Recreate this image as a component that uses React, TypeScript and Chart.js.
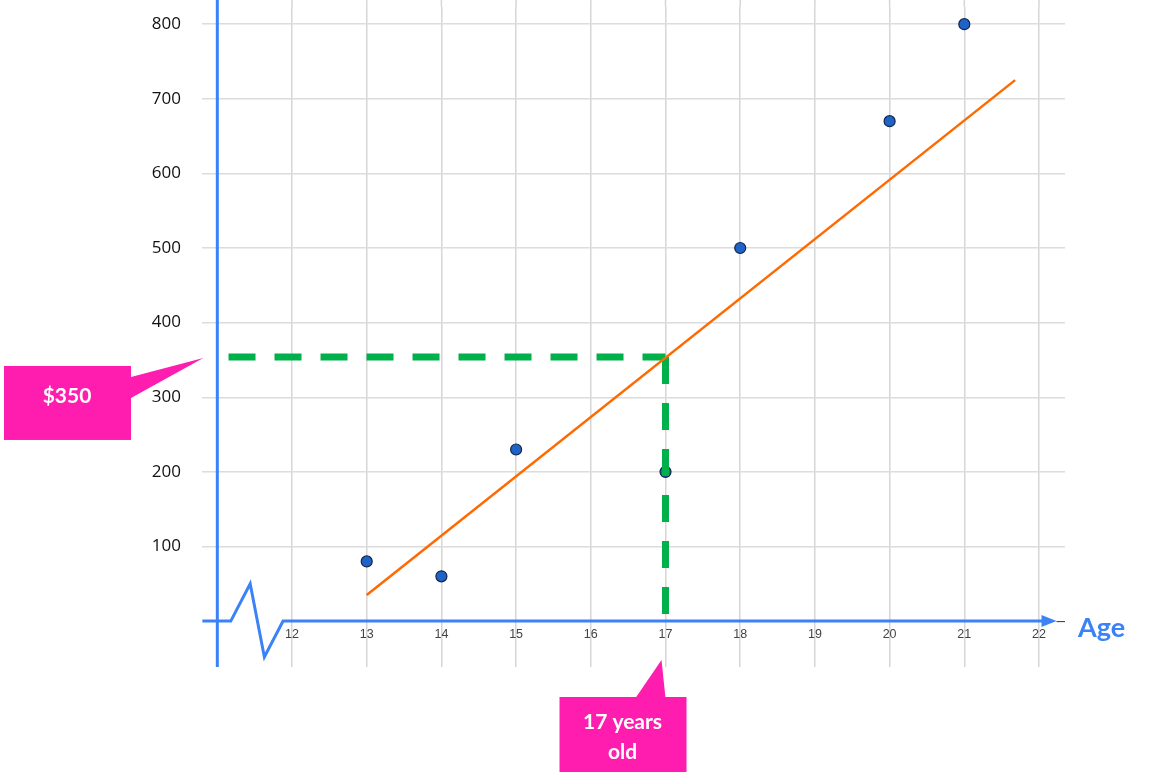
import React, { useEffect, useRef } from "react";
import { Chart, registerables } from "chart.js";

Chart.register(...registerables);

// ---- data ----
const ages = [13, 14, 15, 17, 18, 20, 21];
const amounts = [80, 60, 230, 200, 500, 670, 800];
const trendX = [13, 21.68];
const trendY = [35, 725];
const guideHX = [11.15, 17];
const guideHY = [354, 354];
const guideVX = [17, 17];
const guideVY = [354, 0];
const xTicks = [12, 13, 14, 15, 16, 17, 18, 19, 20, 21, 22];
const yTicks = [100, 200, 300, 400, 500, 600, 700, 800];
const breakX = [10.8, 11.18, 11.44, 11.63, 11.88, 22.06];
const breakY = [0, 0, 50, -48, 0, 0];
const yAxisAt = 11;
const priceLabel = "$350";
const ageLabel = ["17 years", "old"];
const xTitle = "Age";

const BLUE = "#3b82f6";
const PINK = "#ff1db0";
const GREEN = "#00b04a";

const overlay = {
  id: "overlay",
  beforeDatasetsDraw(chart: any) {
    // extend vertical grid lines to the top edge of the picture
    const { ctx, chartArea, scales } = chart;
    const xs = scales.x;
    ctx.save();
    ctx.strokeStyle = "#d6d6d6";
    ctx.lineWidth = 1.5;
    xTicks.forEach((v) => {
      const px = xs.getPixelForValue(v);
      ctx.beginPath();
      ctx.moveTo(px, 0);
      ctx.lineTo(px, chartArea.top);
      ctx.stroke();
    });
    ctx.restore();
  },
  afterDatasetsDraw(chart: any) {
    const { ctx, chartArea, scales } = chart;
    const xs = scales.x;
    const ys = scales.y;
    ctx.save();
    // y axis
    const ax = xs.getPixelForValue(yAxisAt);
    ctx.strokeStyle = BLUE;
    ctx.lineWidth = 3;
    ctx.beginPath();
    ctx.moveTo(ax, 0);
    ctx.lineTo(ax, chartArea.bottom);
    ctx.stroke();
    // x axis with break
    ctx.lineJoin = "miter";
    ctx.beginPath();
    breakX.forEach((v, i) => {
      const px = xs.getPixelForValue(v);
      const py = ys.getPixelForValue(breakY[i]);
      if (i === 0) ctx.moveTo(px, py);
      else ctx.lineTo(px, py);
    });
    ctx.stroke();
    const y0 = ys.getPixelForValue(0);
    const base = xs.getPixelForValue(breakX[breakX.length - 1]);
    const tip = base + 13;
    ctx.fillStyle = BLUE;
    ctx.beginPath();
    ctx.moveTo(base - 2, y0 - 6);
    ctx.lineTo(tip, y0);
    ctx.lineTo(base - 2, y0 + 6);
    ctx.closePath();
    ctx.fill();
    ctx.strokeStyle = "#333";
    ctx.lineWidth = 1;
    ctx.beginPath();
    ctx.moveTo(tip, y0 + 0.5);
    ctx.lineTo(chartArea.right, y0 + 0.5);
    ctx.stroke();

    // Age title
    ctx.fillStyle = BLUE;
    ctx.font = "bold 27px Lato";
    ctx.textAlign = "left";
    ctx.textBaseline = "middle";
    ctx.fillText(xTitle, chartArea.right + 13, y0 + 7);

    // callout 1 ($350)
    const gy = ys.getPixelForValue(guideHY[0]);
    const t1x = ax - 14;
    const t1y = gy + 1;
    ctx.fillStyle = PINK;
    ctx.beginPath();
    ctx.moveTo(131, t1y + 19);
    ctx.lineTo(t1x, t1y);
    ctx.lineTo(131, t1y + 40);
    ctx.closePath();
    ctx.fill();
    ctx.fillRect(4, t1y + 8, 127, 74);
    ctx.fillStyle = "#ffffff";
    ctx.font = "bold 21px Lato";
    ctx.textAlign = "center";
    ctx.fillText(priceLabel, 67, t1y + 38);

    // callout 2 (17 years old)
    const gx = xs.getPixelForValue(guideVX[0]);
    const t2x = gx - 4;
    const t2y = chartArea.bottom - 7;
    ctx.fillStyle = PINK;
    ctx.beginPath();
    ctx.moveTo(gx - 30, t2y + 38);
    ctx.lineTo(t2x, t2y);
    ctx.lineTo(gx, t2y + 38);
    ctx.closePath();
    ctx.fill();
    ctx.fillRect(gx - 106, t2y + 37, 127, 75);
    ctx.fillStyle = "#ffffff";
    ctx.fillText(ageLabel[0], gx - 43, t2y + 62);
    ctx.fillText(ageLabel[1], gx - 43, t2y + 92);
    ctx.restore();
  },
};

export default function App() {
  const ref = useRef<HTMLCanvasElement | null>(null);
  useEffect(() => {
    if (!ref.current) return;
    const guideStyle = {
      type: "line",
      borderColor: GREEN,
      borderWidth: 7,
      borderDash: [27, 19],
      borderCapStyle: "butt",
      borderJoinStyle: "miter",
      pointRadius: 0,
      order: 2,
    };
    const chart = new Chart(ref.current, {
      type: "scatter",
      data: {
        datasets: [
          {
            type: "line",
            label: "trend",
            data: trendX.map((x, i) => ({ x, y: trendY[i] })),
            borderColor: "#ff6a00",
            borderWidth: 2.5,
            pointRadius: 0,
            order: 1,
          },
          {
            ...guideStyle,
            label: "guideH",
            data: guideHX.map((x, i) => ({ x, y: guideHY[i] })),
          },
          {
            ...guideStyle,
            label: "guideV",
            data: guideVX.map((x, i) => ({ x, y: guideVY[i] })),
          },
          {
            label: "amount",
            data: ages.map((x, i) => ({ x, y: amounts[i] })),
            backgroundColor: "#1f63c6",
            borderColor: "#10264d",
            borderWidth: 1.2,
            pointRadius: 5.5,
            order: 3,
          },
        ] as any,
      },
      options: {
        animation: false,
        responsive: true,
        maintainAspectRatio: false,
        layout: { padding: { left: 0, top: 0, right: 89, bottom: 110 } },
        plugins: { legend: { display: false }, tooltip: { enabled: false } },
        scales: {
          x: {
            type: "linear",
            min: 10.795,
            max: 22.348,
            position: { y: 0 } as any,
            afterBuildTicks: (s: any) => {
              s.ticks = xTicks.map((v) => ({ value: v }));
            },
            afterFit: (s: any) => {
              s.paddingTop = 0;
              s.paddingBottom = 0;
              s.paddingLeft = 0;
              s.paddingRight = 0;
            },
            grid: { color: "#d6d6d6", lineWidth: 1.5, drawTicks: false },
            border: { display: false },
            ticks: {
              padding: 6,
              color: "#444",
              font: { family: "Liberation Sans, Arial", size: 12.5 },
            },
          },
          y: {
            type: "linear",
            min: -61.5,
            max: 823.4,
            position: "left",
            afterFit: (s: any) => {
              s.width = 202;
              s.paddingTop = 0;
              s.paddingBottom = 0;
              s.paddingLeft = 0;
              s.paddingRight = 0;
            },
            afterBuildTicks: (s: any) => {
              s.ticks = yTicks.map((v) => ({ value: v }));
            },
            grid: { color: "#dcdcdc", lineWidth: 1.5, drawTicks: false },
            border: { display: false },
            ticks: {
              padding: 21,
              color: "#111",
              font: { family: "Open Sans", size: 17 },
            },
          },
        },
      },
      plugins: [overlay],
    });
    return () => chart.destroy();
  }, []);
  return (
    <div
      style={{
        position: "fixed",
        left: 0,
        top: 0,
        width: 1154,
        height: 777,
        background: "#fff",
      }}
    >
      <canvas ref={ref} />
    </div>
  );
}
